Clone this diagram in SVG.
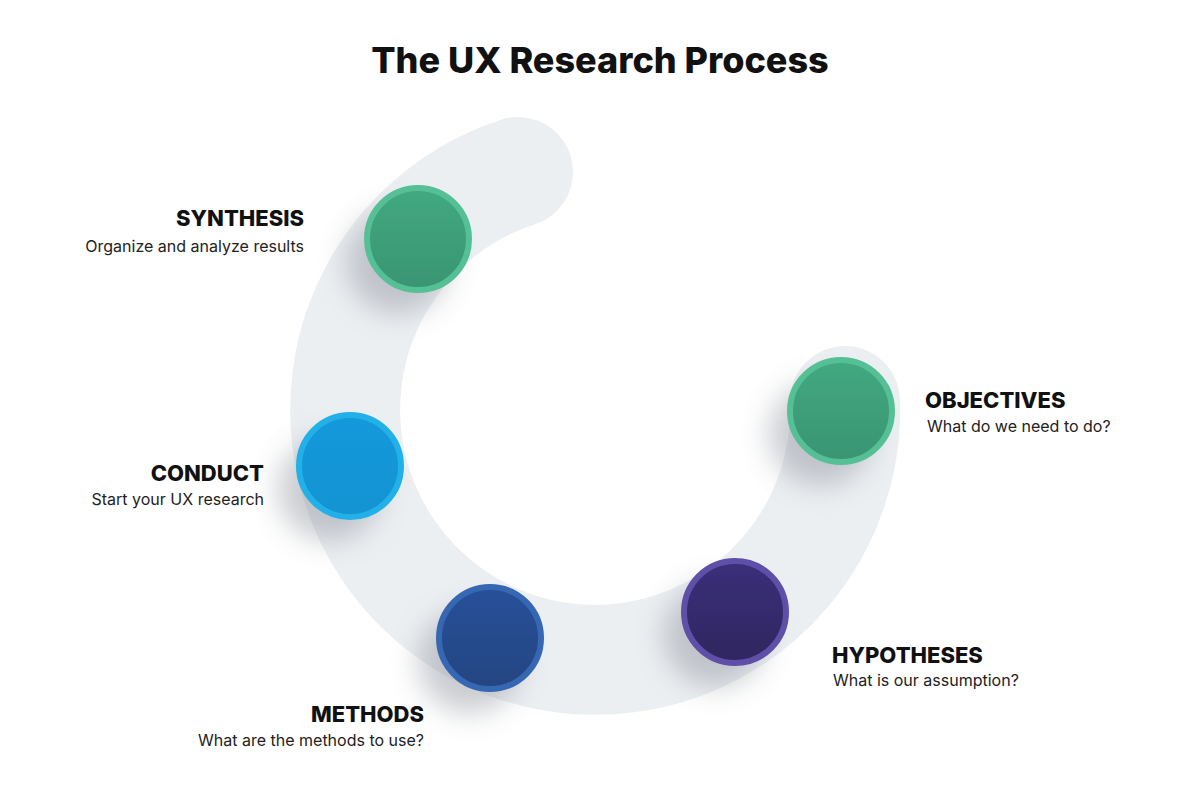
<svg xmlns="http://www.w3.org/2000/svg" width="1200" height="800" viewBox="0 0 1200 800">
<defs>
<filter id="sh" x="-100%" y="-100%" width="300%" height="300%"><feGaussianBlur stdDeviation="14"/></filter>
<linearGradient id="gG" x1="0" y1="0" x2="0" y2="1"><stop offset="0" stop-color="#41a981"/><stop offset="1" stop-color="#3a9473"/></linearGradient>
<linearGradient id="gB" x1="0" y1="0" x2="0" y2="1"><stop offset="0" stop-color="#1499dc"/><stop offset="1" stop-color="#1393d2"/></linearGradient>
<linearGradient id="gN" x1="0" y1="0" x2="0" y2="1"><stop offset="0" stop-color="#27509a"/><stop offset="1" stop-color="#244580"/></linearGradient>
<linearGradient id="gP" x1="0" y1="0" x2="0" y2="1"><stop offset="0" stop-color="#3a2f7a"/><stop offset="1" stop-color="#30265f"/></linearGradient>
</defs>
<style>
.t{font-family:Inter,"Open Sans",sans-serif;fill:#111}
.h{font-size:22px;font-weight:800}
.d{font-size:16px;fill:#222}
.shadow{fill:#8a9099;opacity:0.45;filter:url(#sh)}
</style>
<rect width="1200" height="800" fill="#fff"/>
<text class="t" x="600" y="73" text-anchor="middle" font-size="36" font-weight="800">The UX Research Process</text>
<g id="connectors">
<path d="M518,172 A250,250 0 1 0 845,401" fill="none" stroke="#eceff2" stroke-width="110" stroke-linecap="round"/>
</g>
<g id="synthesis">
<circle class="shadow" cx="398" cy="262" r="52"/>
<circle cx="418" cy="239" r="51" fill="url(#gG)" stroke="#55bf95" stroke-width="6"/>
<text class="t h" x="304" y="226" text-anchor="end">SYNTHESIS</text>
<text class="t d" x="304" y="252" text-anchor="end">Organize and analyze results</text>
</g>
<g id="objectives">
<circle class="shadow" cx="821" cy="434" r="52"/>
<circle cx="841" cy="411" r="51" fill="url(#gG)" stroke="#55bf95" stroke-width="6"/>
<text class="t h" x="925" y="408">OBJECTIVES</text>
<text class="t d" x="927" y="432">What do we need to do?</text>
</g>
<g id="conduct">
<circle class="shadow" cx="330" cy="489" r="52"/>
<circle cx="350" cy="466" r="51" fill="url(#gB)" stroke="#22b0e8" stroke-width="6"/>
<text class="t h" x="264" y="481" text-anchor="end">CONDUCT</text>
<text class="t d" x="264" y="505" text-anchor="end">Start your UX research</text>
</g>
<g id="methods">
<circle class="shadow" cx="470" cy="661" r="52"/>
<circle cx="490" cy="638" r="51" fill="url(#gN)" stroke="#3567b3" stroke-width="6"/>
<text class="t h" x="424" y="722" text-anchor="end">METHODS</text>
<text class="t d" x="424" y="746" text-anchor="end">What are the methods to use?</text>
</g>
<g id="hypotheses">
<circle class="shadow" cx="715" cy="635" r="52"/>
<circle cx="735" cy="612" r="51" fill="url(#gP)" stroke="#5f4fa8" stroke-width="6"/>
<text class="t h" x="832" y="663">HYPOTHESES</text>
<text class="t d" x="833" y="686">What is our assumption?</text>
</g>
</svg>
